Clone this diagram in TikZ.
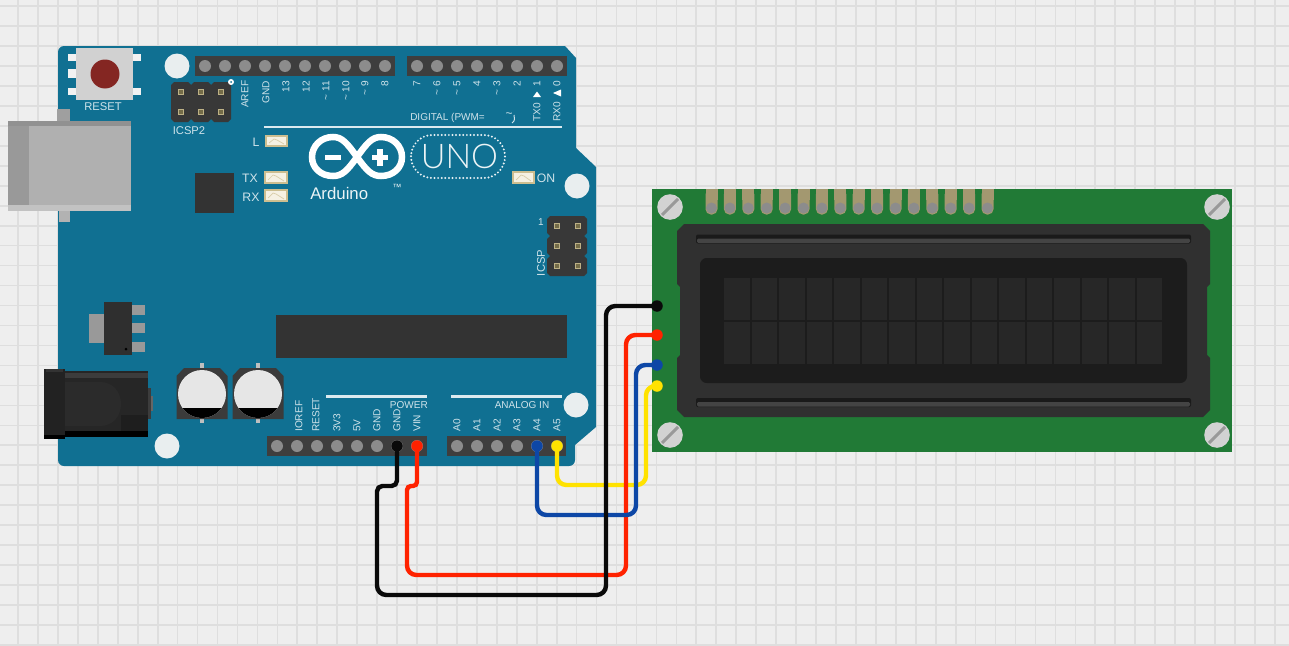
\documentclass[tikz,border=0pt]{standalone}
\usepackage{fontspec}
\setmainfont{Liberation Sans}
\newfontfamily\unofont{Lato Light}
\definecolor{bgc}{HTML}{EEEEEE}
\definecolor{gridc}{HTML}{DEDEDE}
\definecolor{boardc}{HTML}{107092}
\definecolor{silk}{HTML}{CFE3EA}
\definecolor{hdr}{HTML}{3E3E3E}
\definecolor{hole}{HTML}{8C8C8C}
\definecolor{chipc}{HTML}{333333}
\definecolor{pcb}{HTML}{217A36}
\definecolor{framec}{HTML}{303030}
\definecolor{screenc}{HTML}{1C1C1C}
\definecolor{cellc}{HTML}{272727}
\definecolor{padc}{HTML}{A39870}
\definecolor{wblack}{HTML}{0A0A0A}
\definecolor{wred}{HTML}{FF2200}
\definecolor{wblue}{HTML}{0D47A6}
\definecolor{wyellow}{HTML}{FFE200}
\definecolor{ledc}{HTML}{F6F1E3}
\definecolor{ledb}{HTML}{CDBE90}
\definecolor{goldc}{HTML}{BDB186}
\definecolor{btnc}{HTML}{842622}
\definecolor{olivec}{HTML}{746C48}
\definecolor{regc}{HTML}{2F2F2F}
\definecolor{jackc}{HTML}{262626}
\definecolor{jackl}{HTML}{3C3C3C}
\definecolor{jackm}{HTML}{2B2B2B}
\definecolor{jackd}{HTML}{1E1E1E}
\definecolor{jacke}{HTML}{666666}
\definecolor{jackf}{HTML}{222222}
\definecolor{capb}{HTML}{3B3B3B}
\definecolor{capw}{HTML}{E6E6E6}
\definecolor{screwc}{HTML}{D2D2D2}
\definecolor{slotd}{HTML}{1A1A1A}
\definecolor{slotl}{HTML}{444444}
\def\px{0.75pt}
\tikzset{
  x=0.75pt,y=-0.75pt,
  pinhole/.style={circle,fill=hole,inner sep=0,minimum size=12*\px},
  wiredot/.style={circle,inner sep=0,minimum size=11.5*\px},
  silkv/.style={text=silk,inner sep=0,rotate=90,font=\fontsize{7.6}{8}\selectfont},
  silkh/.style={text=silk,inner sep=0},
  wirepath/.style={line width=4.4*\px,rounded corners=7pt},
  boardhole/.style={fill=bgc!60!white,opacity=.95}
}
\begin{document}
\begin{tikzpicture}
\useasboundingbox (0,0) rectangle (1289,646);
\fill[bgc] (0,0) rectangle (1289,646);
% grid
\foreach \i in {0,...,64} \draw[gridc,line width=1.7*\px] ({18+19.95*\i},0) -- ({18+19.95*\i},646);
\foreach \i in {0,...,32} \draw[gridc,line width=1.7*\px] (0,{6+19.97*\i}) -- (1289,{6+19.97*\i});
% board
\fill[boardc,rounded corners=4.5pt] (58,46) [sharp corners] -- (565,46) -- (576,58) -- (576,148) -- (596,167) -- (596,427) -- (575,445) -- (575,460) [rounded corners=4.5pt] -- (575,466) -- (58,466) -- cycle;
% holes
\foreach \p in {(177,66),(577,186),(167,446),(576,405)} \fill[boardhole] \p circle (12.5);
% USB
\fill[gray!75] (57,109) rectangle (70,122);
\fill[gray!60] (59,210) rectangle (70,222);
\fill[black!31] (8,121) rectangle (131,211);
\fill[black!40] (8,121) rectangle (29,211);
\fill[black!43] (8,121) rectangle (131,126);
\fill[black!24] (8,205) rectangle (131,211);
% reset
\fill[white!90!gray] (68,54) rectangle (141,61);
\fill[white!90!gray] (68,69) rectangle (80,78);
\fill[white!90!gray] (68,88) rectangle (141,95);
\fill[black!18] (76,48) rectangle (133,100);
\fill[btnc] (105,74) circle (14.5);
\node[silkh,font=\fontsize{8.4}{9}\selectfont] (resetlbl) at (103,107) {RESET};
% ICSP2
\foreach \x in {181,201,221} {
  \fill[hdr!90!black] (\x-7,82) -- (\x+7,82) -- (\x+10,85) -- (\x+10,119) -- (\x+7,122) -- (\x-7,122) -- (\x-10,119) -- (\x-10,85) -- cycle;
  \foreach \y in {92,112} {
    \fill[goldc] (\x-3.3,\y-3.3) rectangle (\x+3.3,\y+3.3);
    \fill[olivec] (\x-2.2,\y-2.2) rectangle (\x+2.2,\y+2.2);
  }
}
\fill[white] (231,82) circle (3);
\fill[boardc] (231,82) circle (1);
\node[silkh,font=\fontsize{8.4}{9}\selectfont] (icsptwolbl) at (189,131) {ICSP2};
% top headers
\fill[hdr] (195,56) rectangle (395,76);
\fill[hdr] (407,56) rectangle (567,76);
\foreach \i in {0,...,9} \node[pinhole] (d\i) at ({205+20*\i},66) {};
\foreach \i in {0,...,7} \node[pinhole] (e\i) at ({417+20*\i},66) {};
% top labels
\foreach \x/\t/\n in {245/AREF/a,266/GND/b,286/13/c,306/12/d,326/\textasciitilde\ 11/e,346/\textasciitilde\ 10/f,365/\textasciitilde\ 9/g,385/8/h,417/7/i,437/\textasciitilde\ 6/j,457/\textasciitilde\ 5/k,477/4/l,497/\textasciitilde\ 3/m,517/2/n,537/1/o,557/0/p}
  \node[silkv,anchor=east] (top\n) at (\x,80.5) {\t};
\node[silkv,anchor=west] (txlbl) at (537,122) {TX0};
\node[silkv,anchor=west] (rxlbl) at (557,122) {RX0};
\fill[white] (537,91.5) -- (541,97) -- (533,97) -- cycle;
\fill[white] (553,93) -- (561,89.5) -- (561,96.5) -- cycle;
\node[silkh,anchor=west,font=\fontsize{7.5}{8}\selectfont] (diglbl) at (410,118) {DIGITAL (PWM=};
\node[silkh,font=\fontsize{9}{9}\selectfont] (tildelbl) at (509,115.5) {\textasciitilde};
\draw[silk,line width=1*\px] (514,115) .. controls (515,118) and (515,121) .. (512,123);
\fill[white!85!boardc] (264,126) rectangle (562,128);
% logo
\draw[white,line width=6.5*\px] (357,157) .. controls (347,143) and (342,137) .. (333,137) .. controls (321,137) and (312,146) .. (312,157) .. controls (312,168) and (321,176) .. (333,176) .. controls (342,176) and (347,171) .. (357,157) .. controls (367,143) and (372,137) .. (381,137) .. controls (393,137) and (402,146) .. (402,157) .. controls (402,168) and (393,176) .. (381,176) .. controls (372,176) and (367,171) .. (357,157) -- cycle;
\fill[white] (325,154.5) rectangle (341,160);
\fill[white] (372,154.5) rectangle (388,160);
\fill[white] (377.2,149) rectangle (382.8,165.5);
\node[text=white!92!boardc,inner sep=0,anchor=west,font=\fontsize{12.6}{14}\selectfont] (ardlbl) at (310,193) {Arduino};
\node[text=white!92!boardc,inner sep=0,font=\fontsize{6.75}{7}\selectfont] (tmlbl) at (397,187) {™};
\draw[white!90!boardc,line width=2.2*\px,line cap=round,dash pattern=on 0pt off 2.7pt,rounded corners=16pt] (411,135) rectangle (505,178);
\node[text=white!92!boardc,inner sep=0,font=\unofont\fontsize{25.5}{28}\selectfont] (unolbl) at (459.5,156) {UNO};
% LEDs
\foreach \a/\b/\c/\d in {266/136/287/146,265/172/287/183,265/190/287/201,513/172/534/183} {
  \fill[ledc] (\a,\b) rectangle (\c,\d);
  \draw[ledb,line width=1.2*\px] (\a,\b) rectangle (\c,\d);
  \draw[ledb!70!ledc,line width=.7*\px] (\a+3,\d-3) -- (\a+8,\b+3) -- (\a+11,\b+4) -- (\c-3,\d-2);
}
\node[silkh,font=\fontsize{9.2}{10}\selectfont] (llbl) at (256,142) {L};
\node[silkh,font=\fontsize{9.2}{10}\selectfont] (tlbl) at (250,178) {TX};
\node[silkh,font=\fontsize{9.2}{10}\selectfont] (rlbl) at (251,197) {RX};
\node[silkh,font=\fontsize{9.2}{10}\selectfont] (onlbl) at (546,178) {ON};
% chips
\fill[chipc] (195,173) rectangle (234,213);
\fill[chipc] (276,315) rectangle (567,358);
% ICSP
\foreach \y in {226,246,266} {
  \fill[hdr!90!black] (550,\y-10) -- (584,\y-10) -- (587,\y-7) -- (587,\y+7) -- (584,\y+10) -- (550,\y+10) -- (547,\y+7) -- (547,\y-7) -- cycle;
  \foreach \x in {557,578} {
    \fill[goldc] (\x-3.3,\y-3.3) rectangle (\x+3.3,\y+3.3);
    \fill[olivec] (\x-2.2,\y-2.2) rectangle (\x+2.2,\y+2.2);
  }
}
\node[silkh,font=\fontsize{7.5}{8}\selectfont] (onelbl) at (541,222) {1};
\node[silkv,font=\fontsize{8.4}{9}\selectfont] (icsplbl) at (541,263) {ICSP};
% regulator
\fill[black!40] (89,314) rectangle (104,343);
\foreach \y in {305,323,342} \fill[black!40] (132,\y) rectangle (145,\y+10);
\fill[regc] (104,302) rectangle (132,355);
\fill[black] (126,349) circle (1.5);
% jack
\fill[jackc] (65,371) rectangle (148,437);
\fill[jackd] (121,415) rectangle (148,431);
\fill[jackl] (65,373) rectangle (148,378);
\fill[black] (65,431) rectangle (148,437);
\fill[jackm] (65,382) -- (100,382) .. controls (113,382) and (121,392) .. (121,404) .. controls (121,416) and (113,426) .. (100,426) -- (65,426) -- cycle;
\fill[jackl] (148,388) rectangle (151,419);
\fill[jacke] (151,396) rectangle (153,411);
\fill[jackf] (44,369) rectangle (65,439);
\fill[black] (44,435) rectangle (65,439);
\fill[chipc] (46,369) rectangle (63,372);
% capacitors
\foreach \x in {202,258} {
  \fill[black!25] (\x-2,363) rectangle (\x+2,422.5);
  \fill[capb] (\x-18,368) -- (\x+18,368) -- (\x+25.5,376) -- (\x+25.5,419) -- (\x-25.5,419) -- (\x-25.5,376) -- cycle;
  \fill[capw] (\x,394) circle (24);
  \begin{scope}
    \clip (\x,394) circle (24);
    \fill[black] (\x-25,407.5) rectangle (\x+25,420);
  \end{scope}
}
% bottom headers
\fill[hdr] (267,436) rectangle (427,456);
\fill[hdr] (447,436) rectangle (566,456);
\foreach \i in {0,...,7} \node[pinhole] (p\i) at ({277+20*\i},446) {};
\foreach \i in {0,...,5} \node[pinhole] (q\i) at ({457+20*\i},446) {};
% bottom labels
\foreach \x/\t/\n in {299/IOREF/a,316/RESET/b,337/3V3/c,357/5V/d,377/GND/e,397/GND/f,417/VIN/g,457/A0/h,477/A1/i,497/A2/j,517/A3/k,537/A4/l,557/A5/m}
  \node[silkv,anchor=west] (bot\n) at (\x,432) {\t};
\fill[white!85!boardc] (326,395) rectangle (427,397.5);
\fill[white!85!boardc] (451,395) rectangle (562,397.5);
\node[silkh,anchor=east,font=\fontsize{7.5}{8}\selectfont] (powerlbl) at (428,405.5) {POWER};
\node[silkh,font=\fontsize{7.5}{8}\selectfont] (analoglbl) at (522,405.5) {ANALOG IN};
% LCD
\fill[pcb] (652,189) rectangle (1232,452);
\foreach \i in {0,...,15} {
  \fill[padc,rounded corners=4pt] ({711.5+18.4*\i-6},189) -- ({711.5+18.4*\i+6},189) -- ({711.5+18.4*\i+6},214.5) -- ({711.5+18.4*\i-6},214.5) -- cycle;
  \fill[padc] ({711.5+18.4*\i-6},189) rectangle ({711.5+18.4*\i+6},200);
  \fill[hole] ({711.5+18.4*\i},208) circle (5.5);
}
\foreach \a/\b in {670/207,670/435,1217/207,1217/435} {
  \fill[screwc] (\a,\b) circle (12.8);
  \draw[black!40,line width=3*\px] (\a-8,\b+8) -- (\a+8,\b-8);
}
\fill[framec] (684,224) -- (1203,224) -- (1210,231) -- (1210,284) -- (1207,287) -- (1207,355) -- (1210,358) -- (1210,410) -- (1203,417) -- (684,417) -- (677,410) -- (677,358) -- (680,355) -- (680,287) -- (677,284) -- (677,231) -- cycle;
\fill[slotd,rounded corners=1.5pt] (696,234.5) rectangle (1191,243.5);
\fill[slotl,rounded corners=1pt] (697,238.5) rectangle (1190,243);
\fill[slotd,rounded corners=1.5pt] (696,398) rectangle (1191,407);
\fill[slotl,rounded corners=1pt] (697,402) rectangle (1190,406.5);
\fill[screenc,rounded corners=5pt] (700,258) rectangle (1187,383);
\foreach \i in {0,...,15} {
  \fill[cellc] ({724+27.5*\i},278) rectangle ({724+27.5*\i+25.8},319.5);
  \fill[cellc] ({724+27.5*\i},322) rectangle ({724+27.5*\i+25.8},364);
}
% LCD terminals
\node[wiredot,fill=wblack] (lgnd) at (657,306) {};
\node[wiredot,fill=wred] (lvin) at (657,335) {};
\node[wiredot,fill=wblue] (la) at (657,365) {};
\node[wiredot,fill=wyellow] (lb) at (657,386) {};
% wires
\draw[wirepath,wyellow] (q5.center) -- ++(0,39) -- ++(89,0) |- (lb.center);
\draw[line width=4.4*\px,wred,rounded corners=3pt] (p7.center) -- ++(0,40) -- ++(-10,0) [rounded corners=7pt] -- ++(0,89) -- ++(219,0) |- (lvin.center);
\draw[wirepath,wblue] (q4.center) -- ++(0,69) -- ++(99,0) |- (la.center);
\draw[line width=4.4*\px,wblack,rounded corners=4pt] (p6.center) -- ++(0,40) -- ++(-20,0) [rounded corners=7pt] -- ++(0,109) -- ++(229,0) |- (lgnd.center);
\node[wiredot,fill=wyellow] (q5dot) at (q5) {};
\node[wiredot,fill=wblue] (q4dot) at (q4) {};
\node[wiredot,fill=wred] (p7dot) at (p7) {};
\node[wiredot,fill=wblack] (p6dot) at (p6) {};
\end{tikzpicture}
\end{document}
